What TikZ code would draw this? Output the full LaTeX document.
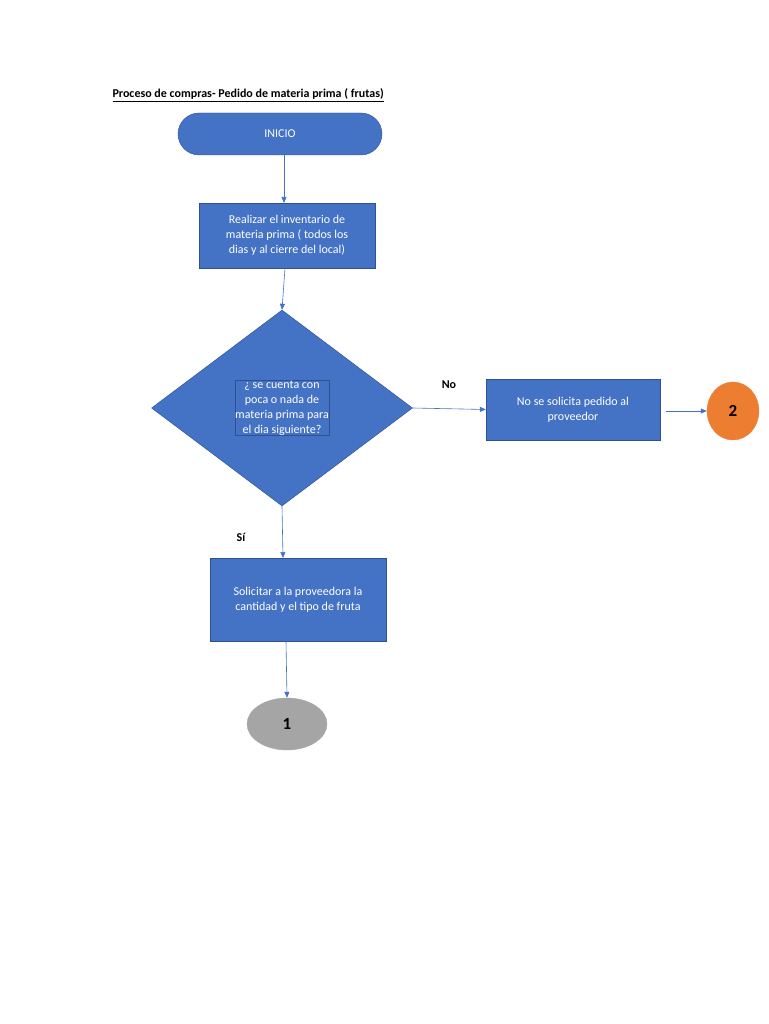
\documentclass[tikz,border=0pt]{standalone}
\usepackage{fontspec}
\setmainfont{Carlito}
\usetikzlibrary{shapes.geometric,arrows.meta}
\definecolor{fb}{HTML}{4472C4}
\definecolor{bd}{HTML}{2F528F}
\definecolor{og}{HTML}{ED7D31}
\definecolor{gy}{HTML}{A5A5A5}
\begin{document}
\begin{tikzpicture}[x=1pt,y=-1pt,
  box/.style={draw=bd,fill=fb,text=white,font=\fontsize{12}{15}\selectfont,align=center,inner sep=0pt},
  arr/.style={draw=fb,-{Triangle[length=6pt,width=5pt]},line width=0.6pt}]
\useasboundingbox (0,0) rectangle (768,1024);
\node[font=\bfseries\fontsize{12}{14}\selectfont,anchor=west] (title) at (109,95) {\underline{Proceso de compras- Pedido de materia prima ( frutas)}};
\node[box,rounded corners=21pt,minimum width=204pt,minimum height=42pt] (ini) at (280,134) {INICIO};
\node[box,minimum width=176pt,minimum height=65pt] (b1) at (287,235.5) {Realizar el inventario de\\materia prima ( todos los\\dias y al cierre del local)};
\node[box,diamond,minimum width=261pt,minimum height=196pt,aspect=1.33] (d) at (282,408) {};
\node[box] (dt) at (282,408) {¿ se cuenta con\\poca o nada de\\materia prima para\\el dia siguiente?};
\node[box,minimum width=174pt,minimum height=61pt] (b2) at (573,409.5) {No se solicita pedido al\\proveedor};
\node[ellipse,fill=og,draw=og,minimum width=52pt,minimum height=58pt,text=black,font=\bfseries\fontsize{17}{20}\selectfont] (c2) at (733,411) {2};
\node[box,minimum width=176pt,minimum height=83pt] (b3) at (298,599.5) {Solicitar a la proveedora la\\cantidad y el tipo de fruta};
\node[ellipse,fill=gy,draw=gy,minimum width=80pt,minimum height=52pt,text=black,font=\bfseries\fontsize{17}{20}\selectfont] (c1) at (287,724) {1};
\draw[arr] (284,155) -- (284,203);
\draw[arr] (285,268) -- (d.north);
\draw[arr] (d.east) -- (b2.west);
\draw[arr] (666,411) -- (c2.west);
\draw[arr] (d.south) -- (283,558);
\draw[arr] (286,641) -- (c1.north);
\node[font=\bfseries\fontsize{12}{14}\selectfont] (no) at (449,385) {No};
\node[font=\bfseries\fontsize{12}{14}\selectfont] (si) at (241,537) {Sí};
\end{tikzpicture}
\end{document}
